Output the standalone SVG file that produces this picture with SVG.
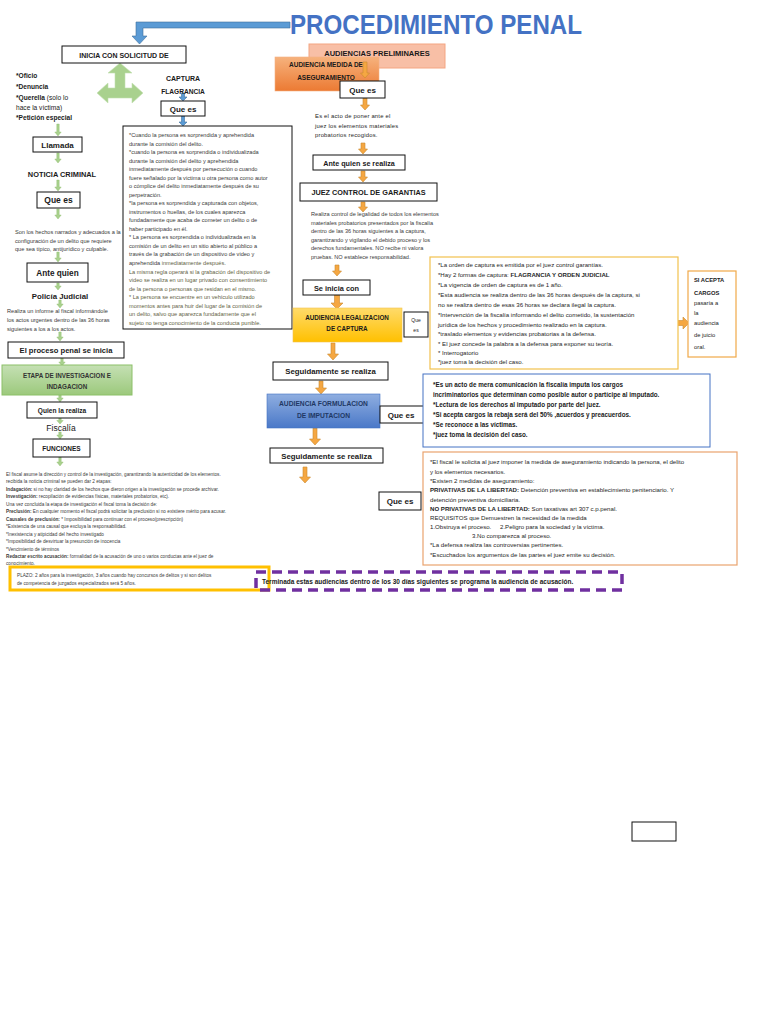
<svg xmlns="http://www.w3.org/2000/svg" width="768" height="1024" viewBox="0 0 768 1024">
<defs>
<style>
text{font-family:"Liberation Sans",Arial,sans-serif;fill:#1a1a1a}
.b{font-weight:bold}
.c{text-anchor:middle}
.box{fill:#fff;stroke:#111;stroke-width:1}
.ga{fill:#A9D18E;stroke:#8DBA6B;stroke-width:0.4}
.oa{fill:#F5A742;stroke:#C9892F;stroke-width:0.6}
.ba{fill:#5B9BD5;stroke:#41719C;stroke-width:0.6}
.p56{font-size:5.6px;fill:#3a3a3a}
.p47{font-size:4.7px;fill:#3a3a3a}
.p61{font-size:6.1px;fill:#262626}
.ol{fill:#5f5f45}
</style>
<linearGradient id="gOr" x1="0" y1="0" x2="0" y2="1"><stop offset="0" stop-color="#F6B27D"/><stop offset="1" stop-color="#EC7A33"/></linearGradient>
<linearGradient id="gYe" x1="0" y1="0" x2="0" y2="1"><stop offset="0" stop-color="#FFDB6B"/><stop offset="1" stop-color="#FFC000"/></linearGradient>
<linearGradient id="gBl" x1="0" y1="0" x2="0" y2="1"><stop offset="0" stop-color="#8FAEE0"/><stop offset="1" stop-color="#4A78C8"/></linearGradient>
<linearGradient id="gGr" x1="0" y1="0" x2="0" y2="1"><stop offset="0" stop-color="#C5E0B4"/><stop offset="1" stop-color="#9CC97C"/></linearGradient>
</defs>
<rect width="768" height="1024" fill="#fff"/>

<g id="title">
<text x="290" y="34" class="b" font-size="28" textLength="292" lengthAdjust="spacingAndGlyphs" style="fill:#4472C4">PROCEDIMIENTO PENAL</text>
</g>

<g id="connectors">
<path class="ba" d="M290,22 H136 V36 H132 L139.5,44 L147,36 H143 V28 H290 Z"/>
<path d="M120,63 L132,73 L125,73 L125,88 L132,88 L132,83 L143,93 L132,103 L132,98 L108,98 L108,103 L97,93 L108,83 L108,88 L115,88 L115,73 L108,73 Z" fill="#A9D18E" stroke="#C5E0B4" stroke-width="0.6"/>
<path class="ga" d="M56.8,124 H59.2 V132 H61.2 L58,136 L54.8,132 H56.8 Z"/>
<path class="ga" d="M56.8,153 H59.2 V159 H61.2 L58,163 L54.8,159 H56.8 Z"/>
<path class="ga" d="M56.8,180 H59.2 V187 H61.2 L58,191 L54.8,187 H56.8 Z"/>
<path class="ga" d="M56.8,209 H59.2 V215 H61.2 L58,219 L54.8,215 H56.8 Z"/>
<path class="ga" d="M56.8,252 H59.2 V258 H61.2 L58,262 L54.8,258 H56.8 Z"/>
<path class="ga" d="M56.8,283 H59.2 V286 H61.2 L58,290 L54.8,286 H56.8 Z"/>
<path class="ga" d="M58.8,300 H61.2 V304 H63.2 L60,308 L56.8,304 H58.8 Z"/>
<path class="ga" d="M58.8,332 H61.2 V337 H63.2 L60,341 L56.8,337 H58.8 Z"/>
<path class="ga" d="M60.8,358 H63.2 V362 H65.2 L62,366 L58.8,362 H60.8 Z"/>
<path class="ga" d="M58.8,395 H61.2 V398 H63.2 L60,402 L56.8,398 H58.8 Z"/>
<path class="ga" d="M58.8,418 H61.2 V420.5 H63.2 L60,424 L56.8,420.5 H58.8 Z"/>
<path class="ga" d="M58.8,432 H61.2 V435 H63.2 L60,439 L56.8,435 H58.8 Z"/>
<path class="ga" d="M58.8,457 H61.2 V462 H63.2 L60,466 L56.8,462 H58.8 Z"/>
<path class="ba" d="M181.5,93 H184.5 V97 H187 L183,101 L179,97 H181.5 Z"/>
<path class="ba" d="M181.5,116 H184.5 V122 H187 L183,126 L179,122 H181.5 Z"/>
<path class="oa" d="M361,143 H365 V149 H367.5 L363,154 L358.5,149 H361 Z"/>
<path class="oa" d="M361,171 H365 V177 H367.5 L363,182 L358.5,177 H361 Z"/>
<path class="oa" d="M361,202 H365 V207 H367.5 L363,212 L358.5,207 H361 Z"/>
<path class="oa" d="M335,265 H339 V271 H341.5 L337,276 L332.5,271 H335 Z"/>
<path class="oa" d="M334.5,295 H339.5 V303 H343 L337,309 L331,303 H334.5 Z"/>
<path class="oa" d="M331,343 H335 V354 H338.5 L333,360 L327.5,354 H331 Z"/>
<path class="oa" d="M319,381 H323 V388 H326.5 L321,394 L315.5,388 H319 Z"/>
<path class="oa" d="M313,428 H317 V439 H320.5 L315,445 L309.5,439 H313 Z"/>
<path class="oa" d="M303,467 H307 V477 H310.5 L305,483 L299.5,477 H303 Z"/>
<path class="oa" d="M677,320.5 V325.5 H683 V329 L689,323 L683,317 V320.5 Z"/>
</g>

<g id="inicia">
<rect class="box" x="62" y="46" width="124" height="17"/>
<text x="124" y="57.5" class="b c" font-size="7">INICIA CON SOLICITUD DE</text>
</g>

<g id="lista">
<text x="16" y="77.5" font-size="6.6"><tspan class="b">*Oficio</tspan></text>
<text x="16" y="88.5" font-size="6.6"><tspan class="b">*Denuncia</tspan></text>
<text x="16" y="99.5" font-size="6.6"><tspan class="b">*Querella</tspan> (solo lo</text>
<text x="16" y="110" font-size="6.6">hace la víctima)</text>
<text x="16" y="120" font-size="6.6"><tspan class="b">*Petición especial</tspan></text>
</g>

<g id="captura">
<text x="183" y="81" class="b c" font-size="7">CAPTURA</text>
<text x="183" y="94" class="b c" font-size="6.6">FLAGRANCIA</text>
</g>

<g id="queEsCaptura">
<rect class="box" x="161" y="101" width="44" height="15"/>
<text x="183" y="111.5" class="b c" font-size="8">Que es</text>
</g>

<g id="flagranciaTexto">
<rect class="box" x="123" y="126" width="169" height="203"/>
<text class="p56" x="129" y="137">*Cuando la persona es sorprendida y aprehendida</text>
<text class="p56" x="129" y="145.5">durante la comisión del delito.</text>
<text class="p56" x="129" y="154">*cuando la persona es sorprendida o individualizada</text>
<text class="p56" x="129" y="162.5">durante la comisión del delito y aprehendida</text>
<text class="p56" x="129" y="171">inmediatamente después por persecución o cuando</text>
<text class="p56" x="129" y="179.5">fuere señalado por la victima u otra persona como autor</text>
<text class="p56" x="129" y="188">o cómplice del delito inmediatamente después de su</text>
<text class="p56" x="129" y="196.5">perpetración.</text>
<text class="p56" x="129" y="205">*la persona es sorprendida y capturada con objetos,</text>
<text class="p56" x="129" y="213.5">instrumentos o huellas, de los cuales aparezca</text>
<text class="p56" x="129" y="222">fundadamente que acaba de cometer un delito o de</text>
<text class="p56" x="129" y="230.5">haber participado en él.</text>
<text class="p56" x="129" y="239">* La persona es sorprendida o individualizada en la</text>
<text class="p56" x="129" y="247.5">comisión de un delito en un sitio abierto al público a</text>
<text class="p56" x="129" y="256">través de la grabación de un dispositivo de video y</text>
<text class="p56" x="129" y="265">aprehendida <tspan class="ol">inmediatamente después</tspan>.</text>
<text class="p56 ol" x="129" y="273.5">La misma regla operará si la grabación del dispositivo de</text>
<text class="p56 ol" x="129" y="282">video se realiza en un lugar privado con consentimiento</text>
<text class="p56 ol" x="129" y="290.5">de la persona o personas que residan en el mismo.</text>
<text class="p56 ol" x="129" y="299">* La persona se encuentre en un vehículo utilizado</text>
<text class="p56 ol" x="129" y="307.5">momentos antes para huir del lugar de la comisión de</text>
<text class="p56 ol" x="129" y="316">un delito, salvo que aparezca fundadamente que el</text>
<text class="p56 ol" x="129" y="324.5">sujeto no tenga conocimiento de la conducta punible.</text>
</g>

<g id="llamada">
<rect class="box" x="33" y="137" width="49" height="15"/>
<text x="57.5" y="147.5" class="b c" font-size="8">Llamada</text>
</g>

<g id="noticia">
<text x="62" y="177" class="b c" font-size="7.4">NOTICIA CRIMINAL</text>
</g>

<g id="queEsNoticia">
<rect class="box" x="37" y="192" width="43" height="16"/>
<text x="58.5" y="203" class="b c" font-size="8.5">Que es</text>
</g>

<g id="hechos">
<text class="p56" x="15" y="234">Son los hechos narrados y adecuados a la</text>
<text class="p56" x="15" y="242.5">configuración de un delito que requiere</text>
<text class="p56" x="15" y="251">que sea típico, antijurídico y culpable.</text>
</g>

<g id="anteQuien">
<rect class="box" x="27" y="263" width="61" height="19"/>
<text x="57.5" y="275.5" class="b c" font-size="8.2">Ante quien</text>
</g>

<g id="policia">
<text x="60" y="299" class="b c" font-size="7.8">Policía Judicial</text>
</g>

<g id="informe">
<text class="p56" x="7" y="313">Realiza un informe al fiscal informándole</text>
<text class="p56" x="7" y="322">los actos urgentes dentro de las 36 horas</text>
<text class="p56" x="7" y="331">siguientes a los a los actos.</text>
</g>

<g id="procesoInicia">
<rect class="box" x="8" y="342" width="116" height="16"/>
<text x="66" y="353" class="b c" font-size="7.6">El proceso penal se inicia</text>
</g>

<g id="etapa">
<rect x="2" y="365" width="130" height="30" fill="url(#gGr)" stroke="#8CC068" stroke-width="1"/>
<text x="67" y="377.5" class="b c" font-size="6.3" style="fill:#333">ETAPA DE INVESTIGACION E</text>
<text x="67" y="388.5" class="b c" font-size="6.3" style="fill:#333">INDAGACION</text>
</g>

<g id="quienRealiza">
<rect class="box" x="27" y="402" width="70" height="16"/>
<text x="62" y="412.5" class="b c" font-size="6.6">Quien la realiza</text>
</g>

<g id="fiscalia">
<text x="61" y="431" class="c" font-size="8.5">Fiscalía</text>
</g>

<g id="funciones">
<rect class="box" x="33" y="439" width="57" height="18"/>
<text x="61.5" y="450.5" class="b c" font-size="6.5">FUNCIONES</text>
</g>

<g id="funcionesTexto">
<text class="p47" x="6" y="475.5">El fiscal asume la dirección y control de la investigación, garantizando la autenticidad de los elementos.</text>
<text class="p47" x="6" y="483">recibida la noticia criminal se pueden dar 2 etapas:</text>
<text class="p47" x="6" y="490.5"><tspan class="b">Indagación:</tspan> si no hay claridad de los hechos que dieron origen a la investigación se procede archivar.</text>
<text class="p47" x="6" y="498"><tspan class="b">Investigación:</tspan> recopilación de evidencias físicas, materiales probatorios, etc).</text>
<text class="p47" x="6" y="505.5">Una vez concluida la etapa de investigación el fiscal toma la decisión de:</text>
<text class="p47" x="6" y="513"><tspan class="b">Preclusión:</tspan> En cualquier momento el fiscal podrá solicitar la preclusión si no existiere mérito para acusar.</text>
<text class="p47" x="6" y="520.5"><tspan class="b">Causales de preclusión:</tspan> * Imposibilidad para continuar con el proceso(prescripción)</text>
<text class="p47" x="6" y="528">*Existencia de una causal que excluya la responsabilidad.</text>
<text class="p47" x="6" y="535.5">*Inexistencia y atipicidad del hecho investigado</text>
<text class="p47" x="6" y="543">*Imposibilidad de desvirtuar la presunción de inocencia</text>
<text class="p47" x="6" y="550.5">*Vencimiento de términos</text>
<text class="p47" x="6" y="558"><tspan class="b">Redactar escrito acusación:</tspan> formalidad de la acusación de uno o varios conductas ante el juez de</text>
<text class="p47" x="6" y="564.5">conocimiento.</text>
</g>

<g id="plazo">
<rect x="10" y="567" width="259" height="23" fill="#fff" stroke="#FFC000" stroke-width="3"/>
<text class="p47" x="17" y="577">PLAZO: 2 años para la investigación, 3 años cuando hay concursos de delitos y si son delitos</text>
<text class="p47" x="17" y="585">de competencia de juzgados especializados será 5 años.</text>
</g>

<g id="terminada">
<rect x="256" y="572" width="366" height="18" fill="none" stroke="#7030A0" stroke-width="3.5" stroke-dasharray="10 6"/>
<text x="262" y="584" class="b" font-size="6.5">Terminada estas audiencias dentro de los 30 días siguientes se programa la audiencia de acusación.</text>
</g>

<g id="preliminares">
<rect x="309" y="44" width="136" height="24" fill="#F8BFA6" stroke="#F4A582" stroke-width="1"/>
<text x="377" y="55.5" class="b c" font-size="7.5">AUDIENCIAS PRELIMINARES</text>
</g>

<g id="medida">
<rect x="275" y="57" width="104" height="34" fill="url(#gOr)" stroke="#F4B183" stroke-width="0.6"/>
<text x="326" y="66.5" class="b c" font-size="6.5">AUDIENCIA MEDIDA DE</text>
<text x="326" y="79.5" class="b c" font-size="6.5">ASEGURAMIENTO</text>
</g>

<g id="arrowsMedida">
<path class="oa" d="M363,62 H367 V73 H369.5 L365,78 L360.5,73 H363 Z"/>
<path class="oa" d="M363,98 H367 V105 H369.5 L365,110 L360.5,105 H363 Z"/>
</g>

<g id="queEsMedida">
<rect class="box" x="340" y="81" width="45" height="17"/>
<text x="362.5" y="92.5" class="b c" font-size="8">Que es</text>
</g>

<g id="actoPoner">
<text x="315" y="118" font-size="5.9" letter-spacing="0.2" style="fill:#262626">Es el acto de poner ante el</text>
<text x="315" y="128" font-size="5.9" letter-spacing="0.2" style="fill:#262626">juez los elementos materiales</text>
<text x="315" y="137" font-size="5.9" letter-spacing="0.2" style="fill:#262626">probatorios recogidos.</text>
</g>

<g id="anteQuienRealiza">
<rect class="box" x="313" y="155" width="92" height="15"/>
<text x="359" y="165.5" class="b c" font-size="7.2">Ante quien se realiza</text>
</g>

<g id="juez">
<rect class="box" x="300" y="183" width="137" height="18"/>
<text x="368.5" y="194.5" class="b c" font-size="7.3">JUEZ CONTROL DE GARANTIAS</text>
</g>

<g id="juezTexto">
<text class="p56" x="311" y="216">Realiza control de legalidad de todos los elementos</text>
<text class="p56" x="311" y="224.5">materiales probatorios presentados por la fiscalía</text>
<text class="p56" x="311" y="233">dentro de las 36 horas siguientes a la captura,</text>
<text class="p56" x="311" y="241.5">garantizando y vigilando el debido proceso y los</text>
<text class="p56" x="311" y="250">derechos fundamentales. NO recibe ni valora</text>
<text class="p56" x="311" y="258.5">pruebas. NO establece responsabilidad.</text>
</g>

<g id="seInicia">
<rect class="box" x="303" y="280" width="67" height="15"/>
<text x="336.5" y="290.5" class="b c" font-size="7.4">Se inicia con</text>
</g>

<g id="legalizacion">
<rect x="293" y="308" width="109" height="34" fill="url(#gYe)" stroke="#F2C14E" stroke-width="0.6"/>
<text x="347" y="319.5" class="b c" font-size="6.3">AUDIENCIA LEGALIZACION</text>
<text x="347" y="330.5" class="b c" font-size="6.3">DE CAPTURA</text>
</g>

<g id="queEsLegal">
<rect class="box" x="404" y="312" width="24" height="25"/>
<text x="416" y="322" class="c" font-size="5">Que</text>
<text x="416" y="332" class="c" font-size="5">es</text>
</g>

<g id="legalTexto">
<rect x="430" y="257" width="248" height="112" fill="#fff" stroke="#F2C14E" stroke-width="1.2"/>
<text class="p61" x="438" y="267">*La orden de captura es emitida por el juez control garantías.</text>
<text class="p61" x="438" y="277">*Hay 2 formas de captura: <tspan class="b">FLAGRANCIA Y ORDEN JUDICIAL</tspan></text>
<text class="p61" x="438" y="287">*La vigencia de orden de captura es de 1 año.</text>
<text class="p61" x="438" y="297">*Esta audiencia se realiza dentro de las 36 horas después de la captura, si</text>
<text class="p61" x="438" y="307">no se realiza dentro de esas 36 horas se declara ilegal la captura.</text>
<text class="p61" x="438" y="317">*Intervención de la fiscalía informando el delito cometido, la sustentación</text>
<text class="p61" x="438" y="327">jurídica de los hechos y procedimiento realizado en la captura.</text>
<text class="p61" x="438" y="336">*traslado elementos y evidencias probatorias a la defensa.</text>
<text class="p61" x="438" y="346">* El juez concede la palabra a la defensa para exponer su teoría.</text>
<text class="p61" x="438" y="355">* Interrogatorio</text>
<text class="p61" x="438" y="364">*juez toma la decisión del caso.</text>
</g>

<g id="siAcepta">
<rect x="688" y="271" width="48" height="86" fill="#fff" stroke="#F0A848" stroke-width="1.2"/>
<text x="694" y="282" class="b" font-size="5.8">SI ACEPTA</text>
<text x="694" y="295" class="b" font-size="5.8">CARGOS</text>
<text x="694" y="305" font-size="5.8">pasaría a</text>
<text x="694" y="315" font-size="5.8">la</text>
<text x="694" y="325" font-size="5.8">audiencia</text>
<text x="694" y="337" font-size="5.8">de juicio</text>
<text x="694" y="349" font-size="5.8">oral.</text>
</g>

<g id="seguidamente1">
<rect class="box" x="273" y="362" width="115" height="18"/>
<text x="330.5" y="373.8" class="b c" font-size="7.8">Seguidamente se realiza</text>
</g>

<g id="formulacion">
<rect x="267" y="394" width="113" height="34" fill="url(#gBl)" stroke="#4472C4" stroke-width="0.6"/>
<text x="323.5" y="405.5" class="b c" font-size="6.7" style="fill:#1F3864">AUDIENCIA FORMULACION</text>
<text x="323.5" y="417.5" class="b c" font-size="6.7" style="fill:#1F3864">DE IMPUTACION</text>
</g>

<g id="queEsFormulacion">
<rect class="box" x="380" y="406" width="47" height="17"/>
<text x="401" y="417.5" class="b c" font-size="8">Que es</text>
</g>

<g id="formulacionTexto">
<rect x="423" y="374" width="287" height="73" fill="#fff" stroke="#4472C4" stroke-width="1"/>
<text x="433" y="387.3" class="b" font-size="6.3">*Es un acto de mera comunicación la fiscalía imputa los cargos</text>
<text x="433" y="397.3" class="b" font-size="6.3">incriminatorios que determinan como posible autor o partícipe al imputado.</text>
<text x="433" y="407.3" class="b" font-size="6.3">*Lectura de los derechos al imputado por parte del juez.</text>
<text x="433" y="417.3" class="b" font-size="6.3">*Si acepta cargos la rebaja será del 50% ,acuerdos y preacuerdos.</text>
<text x="433" y="427.3" class="b" font-size="6.3">*Se reconoce a las víctimas.</text>
<text x="433" y="437.3" class="b" font-size="6.3">*juez toma la decisión del caso.</text>
</g>

<g id="seguidamente2">
<rect class="box" x="270" y="448" width="113" height="15"/>
<text x="326.5" y="458.5" class="b c" font-size="7.8">Seguidamente se realiza</text>
</g>

<g id="queEsMedida2">
<rect class="box" x="379" y="492" width="42" height="18"/>
<text x="400" y="503.5" class="b c" font-size="8">Que es</text>
</g>

<g id="medidaTexto">
<rect x="423" y="452" width="314" height="113" fill="#fff" stroke="#E9A36E" stroke-width="1.2"/>
<text class="p61" x="430" y="464">*El fiscal le solicita al juez imponer la medida de aseguramiento indicando la persona, el delito</text>
<text class="p61" x="430" y="474">y los elementos necesarios.</text>
<text class="p61" x="430" y="483">*Existen 2 medidas de aseguramiento:</text>
<text class="p61" x="430" y="492"><tspan class="b">PRIVATIVAS DE LA LIBERTAD:</tspan> Detención preventiva en establecimiento penitenciario. Y</text>
<text class="p61" x="430" y="502">detención preventiva domiciliaria.</text>
<text class="p61" x="430" y="511"><tspan class="b">NO PRIVATIVAS DE LA LIBERTAD:</tspan> Son taxativas art 307 c.p.penal.</text>
<text class="p61" x="430" y="520">REQUISITOS que Demuestren la necesidad de la medida</text>
<text class="p61" x="430" y="529">1.Obstruya el proceso.</text>
<text class="p61" x="500" y="529">2.Peligro para la sociedad y la víctima.</text>
<text class="p61" x="472" y="538">3.No comparezca al proceso.</text>
<text class="p61" x="430" y="547">*La defensa realiza las controversias pertinentes.</text>
<text class="p61" x="430" y="557">*Escuchados los argumentos de las partes el juez emite su decisión.</text>
</g>

<g id="cajaVacia">
<rect class="box" x="632" y="822" width="44" height="19"/>
</g>
</svg>
